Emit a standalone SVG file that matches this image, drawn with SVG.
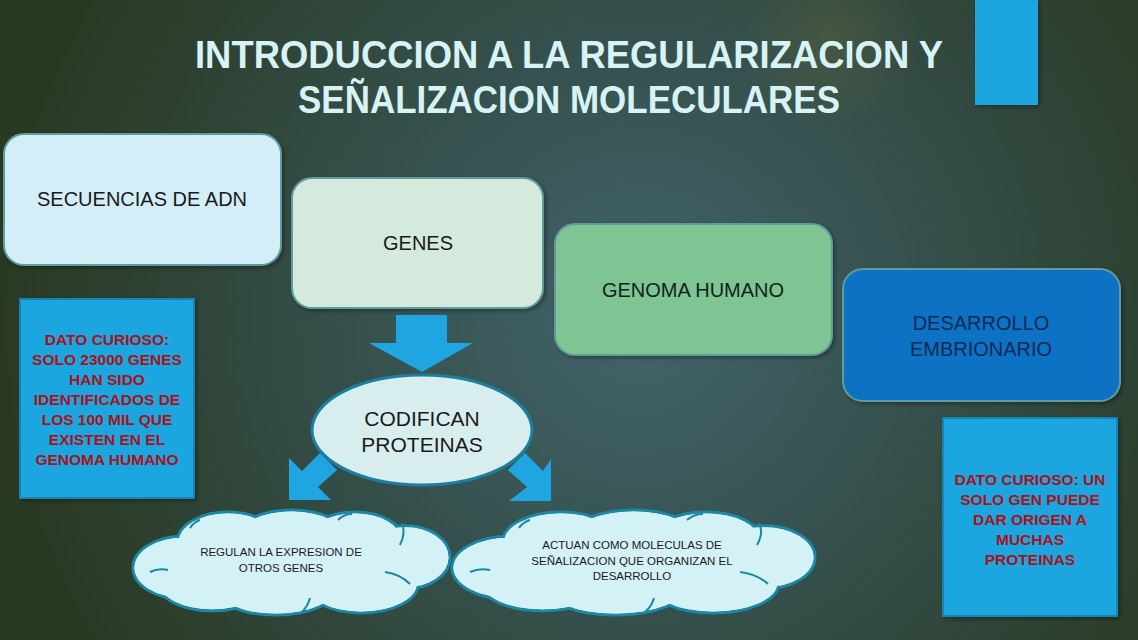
<svg xmlns="http://www.w3.org/2000/svg" width="1138" height="640" viewBox="0 0 1138 640">
<defs>
<radialGradient id="bg" cx="640" cy="320" r="640" gradientUnits="userSpaceOnUse">
<stop offset="0" stop-color="#43646c"/>
<stop offset="0.45" stop-color="#35504c"/>
<stop offset="1" stop-color="#2a3922"/>
</radialGradient>
<radialGradient id="glow" cx="830" cy="40" r="90" gradientUnits="userSpaceOnUse">
<stop offset="0" stop-color="#6a6a3a" stop-opacity="0.35"/>
<stop offset="1" stop-color="#6a6a3a" stop-opacity="0"/>
</radialGradient>
<filter id="sh" x="-10%" y="-10%" width="130%" height="130%">
<feDropShadow dx="2" dy="2" stdDeviation="2" flood-color="#000" flood-opacity="0.35"/>
</filter>
</defs>
<style>
.t{font-family:"Liberation Sans",Arial,sans-serif;}
.title{font-size:39px;font-weight:bold;fill:#d8f3f6;text-anchor:middle;}
.lbl{font-size:20px;fill:#1a1a1a;text-anchor:middle;}
.dato{font-size:15.5px;font-weight:bold;fill:#ab1119;text-anchor:middle;}
.small{font-size:11.5px;fill:#1a1a1a;text-anchor:middle;}
.box{stroke:#5e9c9e;stroke-width:2;}
.dbox{fill:#1fa6e0;stroke:#1784b5;stroke-width:2;}
.arrow{fill:#1fa6e0;}
.cs{fill:#d4f1f6;stroke:#1b88a6;stroke-width:3;}
.cf{fill:#d4f1f6;}
.ca{fill:none;stroke:#1b88a6;stroke-width:2;}
</style>
<rect x="0" y="0" width="1138" height="640" fill="url(#bg)"/>
<rect x="700" y="0" width="260" height="130" fill="url(#glow)"/>

<g id="title">
<text class="t title" x="569" y="68" textLength="748" lengthAdjust="spacingAndGlyphs">INTRODUCCION A LA REGULARIZACION Y</text>
<text class="t title" x="569" y="113" textLength="542" lengthAdjust="spacingAndGlyphs">SEÑALIZACION MOLECULARES</text>
</g>

<g id="bar">
<rect x="975" y="0" width="63" height="105" fill="#1fa6e0" filter="url(#sh)"/>
</g>

<g id="secuencias">
<rect class="box" x="4" y="134" width="277" height="131" rx="20" fill="#d4eef8" filter="url(#sh)"/>
<text class="t lbl" x="142" y="206">SECUENCIAS DE ADN</text>
</g>

<g id="genes">
<rect class="box" x="292" y="178" width="251" height="130" rx="20" fill="#d3eadc" filter="url(#sh)"/>
<text class="t lbl" x="418" y="250">GENES</text>
</g>

<g id="genoma">
<rect class="box" x="555" y="224" width="277" height="131" rx="20" fill="#7fc593" stroke="#6aa98f" filter="url(#sh)"/>
<text class="t lbl" x="693" y="297" style="fill:#102418">GENOMA HUMANO</text>
</g>

<g id="desarrollo">
<rect class="box" x="843" y="269" width="277" height="132" rx="20" fill="#0a72c4" stroke="#6ab3b3" filter="url(#sh)"/>
<text class="t lbl" x="981" y="330" style="fill:#0d2b55">DESARROLLO</text>
<text class="t lbl" x="981" y="356" style="fill:#0d2b55">EMBRIONARIO</text>
</g>

<g id="dato1">
<rect class="dbox" x="20" y="299" width="174" height="199" filter="url(#sh)"/>
<text class="t dato" x="107" y="345">DATO CURIOSO:</text>
<text class="t dato" x="107" y="365">SOLO 23000 GENES</text>
<text class="t dato" x="107" y="385">HAN SIDO</text>
<text class="t dato" x="107" y="405">IDENTIFICADOS DE</text>
<text class="t dato" x="107" y="425">LOS 100 MIL QUE</text>
<text class="t dato" x="107" y="445">EXISTEN EN EL</text>
<text class="t dato" x="107" y="465">GENOMA HUMANO</text>
</g>

<g id="dato2">
<rect class="dbox" x="943" y="418" width="174" height="198" filter="url(#sh)"/>
<text class="t dato" x="1030" y="485">DATO CURIOSO: UN</text>
<text class="t dato" x="1030" y="505">SOLO GEN PUEDE</text>
<text class="t dato" x="1030" y="525">DAR ORIGEN A</text>
<text class="t dato" x="1030" y="545">MUCHAS</text>
<text class="t dato" x="1030" y="565">PROTEINAS</text>
</g>

<g id="connectors">
<polygon class="arrow" points="396,315 447,315 447,343 473,343 422,372 369,343 396,343"/>
<polygon class="arrow" points="337,470 320,453 302,471 289,458 289,500 331,500 318,487"/>
<polygon class="arrow" points="508,470 525,453 543,471 551,459 551,501 509,501 527,487"/>
</g>

<g id="codifican">
<ellipse cx="422" cy="430" rx="110" ry="55" fill="#d8eeee" stroke="#1b7fa0" stroke-width="3"/>
<text class="t lbl" x="422" y="426" style="font-size:21px">CODIFICAN</text>
<text class="t lbl" x="422" y="452" style="font-size:21px">PROTEINAS</text>
</g>

<g id="cloud1">
<ellipse class="cs" cx="183.7" cy="567.8" rx="50.7" ry="31.5"/>
<ellipse class="cs" cx="228.1" cy="541.5" rx="50.7" ry="29.4"/>
<ellipse class="cs" cx="291.5" cy="536.3" rx="53.9" ry="26.3"/>
<ellipse class="cs" cx="354.9" cy="539.4" rx="47.6" ry="27.3"/>
<ellipse class="cs" cx="405.6" cy="557.3" rx="44.4" ry="31.5"/>
<ellipse class="cs" cx="361.2" cy="583.5" rx="57.1" ry="29.4"/>
<ellipse class="cs" cx="275.7" cy="585.6" rx="63.4" ry="29.4"/>
<ellipse class="cs" cx="212.3" cy="583.5" rx="53.9" ry="27.3"/>
<ellipse class="cf" cx="183.7" cy="567.8" rx="49.2" ry="30"/>
<ellipse class="cf" cx="228.1" cy="541.5" rx="49.2" ry="27.9"/>
<ellipse class="cf" cx="291.5" cy="536.3" rx="52.4" ry="24.8"/>
<ellipse class="cf" cx="354.9" cy="539.4" rx="46.1" ry="25.8"/>
<ellipse class="cf" cx="405.6" cy="557.3" rx="42.9" ry="30"/>
<ellipse class="cf" cx="361.2" cy="583.5" rx="55.6" ry="27.9"/>
<ellipse class="cf" cx="275.7" cy="585.6" rx="61.9" ry="27.9"/>
<ellipse class="cf" cx="212.3" cy="583.5" rx="52.4" ry="25.8"/>
<ellipse class="cf" cx="291.5" cy="564.6" rx="114" ry="38"/>
<path class="ca" d="M150,572 q8,-4 18,-2"/>
<path class="ca" d="M190,528 q4,-6 10,-8"/>
<path class="ca" d="M338,520 q6,-6 14,-6"/>
<path class="ca" d="M400,545 q6,-12 2,-22"/>
<path class="ca" d="M385,572 q15,2 25,12"/>
<path class="ca" d="M302,612 q6,-6 8,-14"/>
</g>
<g id="cloud1-text">
<text class="t small" x="281" y="556">REGULAN LA EXPRESION DE</text>
<text class="t small" x="281" y="572">OTROS GENES</text>
</g>

<g id="cloud2">
<ellipse class="cs" cx="510.1" cy="567.8" rx="58.1" ry="31.5"/>
<ellipse class="cs" cx="560.9" cy="541.5" rx="58.1" ry="29.4"/>
<ellipse class="cs" cx="633.5" cy="536.3" rx="61.7" ry="26.3"/>
<ellipse class="cs" cx="706.1" cy="539.4" rx="54.5" ry="27.3"/>
<ellipse class="cs" cx="764.2" cy="557.3" rx="50.8" ry="31.5"/>
<ellipse class="cs" cx="713.4" cy="583.5" rx="65.3" ry="29.4"/>
<ellipse class="cs" cx="615.4" cy="585.6" rx="72.6" ry="29.4"/>
<ellipse class="cs" cx="542.8" cy="583.5" rx="61.7" ry="27.3"/>
<ellipse class="cf" cx="510.1" cy="567.8" rx="56.6" ry="30"/>
<ellipse class="cf" cx="560.9" cy="541.5" rx="56.6" ry="27.9"/>
<ellipse class="cf" cx="633.5" cy="536.3" rx="60.2" ry="24.8"/>
<ellipse class="cf" cx="706.1" cy="539.4" rx="53" ry="25.8"/>
<ellipse class="cf" cx="764.2" cy="557.3" rx="49.3" ry="30"/>
<ellipse class="cf" cx="713.4" cy="583.5" rx="63.8" ry="27.9"/>
<ellipse class="cf" cx="615.4" cy="585.6" rx="71.1" ry="27.9"/>
<ellipse class="cf" cx="542.8" cy="583.5" rx="60.2" ry="25.8"/>
<ellipse class="cf" cx="633.5" cy="564.6" rx="130.7" ry="38"/>
<path class="ca" d="M470,572 q9,-4 20,-2"/>
<path class="ca" d="M519,528 q4,-6 11,-8"/>
<path class="ca" d="M687,520 q7,-6 16,-6"/>
<path class="ca" d="M757,545 q7,-12 2,-22"/>
<path class="ca" d="M740,572 q17,2 28,12"/>
<path class="ca" d="M645,612 q7,-6 9,-14"/>
</g>
<g id="cloud2-text">
<text class="t small" x="632" y="549">ACTUAN COMO MOLECULAS DE</text>
<text class="t small" x="632" y="565">SEÑALIZACION QUE ORGANIZAN EL</text>
<text class="t small" x="632" y="580">DESARROLLO</text>
</g>
</svg>
